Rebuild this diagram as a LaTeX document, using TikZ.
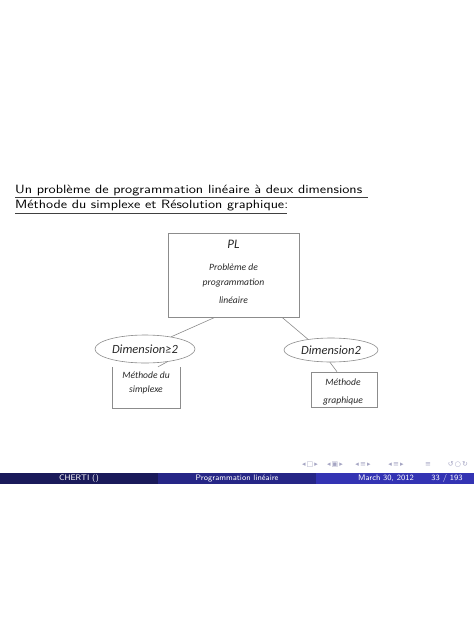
\documentclass[tikz,border=0pt]{standalone}
\usepackage{fontspec}
\usepackage{graphicx}
\newfontfamily\carl{Carlito}
\newfontfamily\dvs{DejaVu Sans}
\usetikzlibrary{shapes.geometric}
\definecolor{authbg}{RGB}{26,26,90}
\definecolor{titbg}{RGB}{38,38,134}
\definecolor{datebg}{RGB}{51,51,179}
\definecolor{diagline}{RGB}{140,140,140}
\definecolor{diagtext}{RGB}{40,40,40}
\definecolor{navgrey}{RGB}{165,165,195}
\begin{document}
\begin{tikzpicture}[x=1pt,y=-1pt,
  titletext/.style={font=\sffamily\fontsize{12}{14}\selectfont, anchor=base west, inner sep=0},
  dtext/.style={font=\carl\itshape\fontsize{9.6}{10}\selectfont, text=diagtext, inner sep=0},
  etext/.style={font=\carl\itshape\fontsize{12.5}{13}\selectfont, text=diagtext},
  box/.style={draw=diagline, line width=0.6pt, inner sep=0},
  openbox/.style={inner sep=0},
  ell/.style={ellipse, draw=diagline, line width=0.6pt, inner sep=0},
  conn/.style={draw=diagline, line width=0.6pt},
  navsym/.style={font=\dvs\fontsize{7}{8}\selectfont, text=navgrey, inner sep=0},
  foottext/.style={font=\sffamily\fontsize{8}{9}\selectfont, text=white, inner sep=0}
]
\useasboundingbox (0,0) rectangle (474,632);
% title lines
\node[titletext] (t1) at (15,193) {\resizebox{347pt}{\height}{Un problème de programmation linéaire à deux dimensions}};
\node[titletext] (t2) at (15,208.5) {\resizebox{273pt}{\height}{Méthode du simplexe et Résolution graphique:}};
\draw[line width=0.7pt, black!75] ([yshift=-4.5pt]t1.base west) -- ++(353,0);
\draw[line width=0.7pt, black!75] ([yshift=-5pt]t2.base west) -- ++(272,0);
% PL box
\node[box, minimum width=131pt, minimum height=84pt] (pl) at (233.5,275) {};
\node[dtext, font=\carl\itshape\fontsize{13}{14}\selectfont] (plt) at (233.5,244.5) {PL};
\node[dtext] (pl1) at (233.5,267) {Problème de};
\node[dtext] (pl2) at (233.5,283.5) {programmation};
\node[dtext] (pl3) at (233.5,300) {linéaire};
% ellipses
\node[ell, etext, minimum width=100pt, minimum height=28pt] (dl) at (145,349) {Dimension≥2};
\node[ell, etext, minimum width=94pt, minimum height=24pt] (dr) at (331,350) {Dimension2};
% bottom boxes
\node[openbox, minimum width=68pt, minimum height=41pt] (ml) at (146,387.5) {};
\draw[diagline, line width=0.6pt] (ml.north west) -- (ml.south west) -- (ml.south east) -- (ml.north east);
\node[dtext] (ml1) at (146,375.5) {Méthode du};
\node[dtext] (ml2) at (146,390) {simplexe};
\node[box, minimum width=66pt, minimum height=35pt] (mr) at (344,389.5) {};
\node[dtext] (mr1) at (343,382) {Méthode};
\node[dtext] (mr2) at (343,401) {graphique};
% connectors
\draw[conn] ([xshift=-18.5pt]pl.south) -- (dl.25);
\draw[conn] ([xshift=48.5pt]pl.south) -- (dr.155);
\draw[conn] (dl.-30) -- ([xshift=12pt]ml.north);
\draw[conn] (dr.-95) -- ([xshift=-7pt]mr.north);
% navigation symbols
\node[navsym] (nav1) at (310,465) {◂\,□\,▸};
\node[navsym] (nav2) at (335,465) {◂\,▣\,▸};
\node[navsym] (nav3) at (363,465) {◂\,≡\,▸};
\node[navsym] (nav4) at (396,465) {◂\,≡\,▸};
\node[navsym] (nav5) at (428,465) {≡};
\node[navsym] (nav6) at (458,465) {↺\,○\,↻};
% footline
\fill[authbg] (0,473) rectangle (158,484);
\fill[titbg] (158,473) rectangle (316,484);
\fill[datebg] (316,473) rectangle (474,484);
\node[foottext] (fa) at (79,478.5) {CHERTI ()};
\node[foottext] (ft) at (237,478.5) {Programmation linéaire};
\node[foottext] (fd) at (386,478.5) {March 30, 2012};
\node[foottext] (fp) at (447,478.5) {33 / 193};
\end{tikzpicture}
\end{document}
